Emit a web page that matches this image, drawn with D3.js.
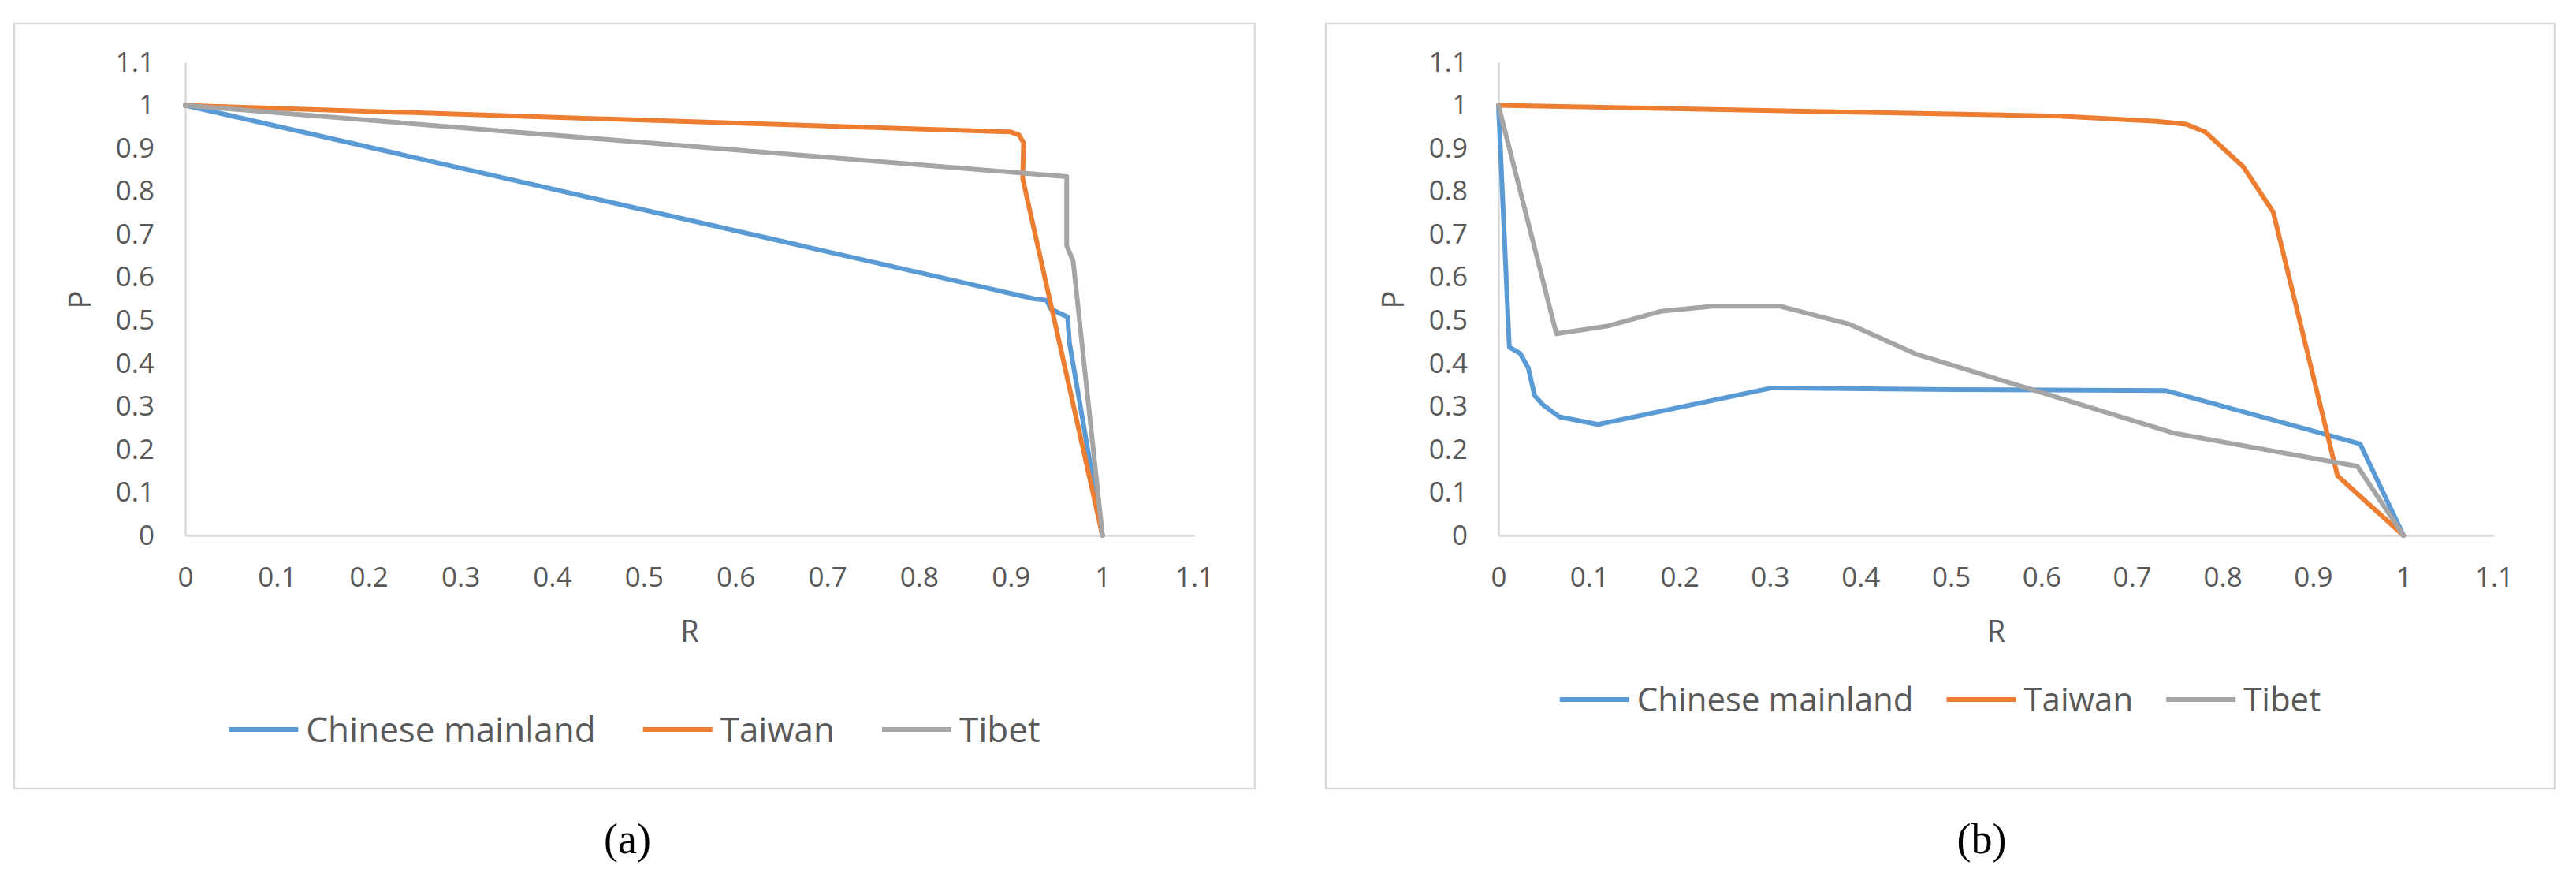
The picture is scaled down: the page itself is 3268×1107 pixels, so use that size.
<!DOCTYPE html>
<html>
<head>
<meta charset="utf-8">
<script src="https://cdnjs.cloudflare.com/ajax/libs/d3/7.8.5/d3.min.js"></script>
<style>
  body { margin: 0; background: #fff; }
  text { font-family: "Open Sans", "Noto Sans", sans-serif; }
</style>
</head>
<body>
<div id="chart"></div>
<script>
// series names and axis ticks
const seriesNames = ["Chinese mainland", "Taiwan", "Tibet"];
const rTicks = [0, 0.1, 0.2, 0.3, 0.4, 0.5, 0.6, 0.7, 0.8, 0.9, 1, 1.1];
const pTicks = [0, 0.1, 0.2, 0.3, 0.4, 0.5, 0.6, 0.7, 0.8, 0.9, 1, 1.1];
const tickLabels = ["0", "0.1", "0.2", "0.3", "0.4", "0.5", "0.6", "0.7", "0.8", "0.9", "1", "1.1"];

// panel (a): [R, P] pairs
const aMainland = [[0, 1], [0.926, 0.55], [0.939, 0.547], [0.944, 0.526], [0.962, 0.508], [0.964, 0.448], [1, 0]];
const aTaiwan = [[0, 1], [0.9, 0.938], [0.909, 0.931], [0.914, 0.913], [0.913, 0.83], [1, 0]];
const aTibet = [[0, 1], [0.961, 0.834], [0.961, 0.674], [0.968, 0.638], [1, 0]];

// panel (b)
const bMainland = [[0, 1], [0.012, 0.438], [0.024, 0.423], [0.033, 0.389], [0.04, 0.325], [0.049, 0.304],
  [0.067, 0.276], [0.11, 0.258], [0.302, 0.343], [0.5, 0.339], [0.737, 0.337], [0.952, 0.213], [1, 0]];
const bTaiwan = [[0, 1], [0.62, 0.975], [0.727, 0.963], [0.76, 0.956], [0.781, 0.938], [0.823, 0.857],
  [0.856, 0.752], [0.927, 0.139], [1, 0]];
const bTibet = [[0, 1], [0.064, 0.469], [0.121, 0.487], [0.179, 0.521], [0.237, 0.533], [0.311, 0.533],
  [0.388, 0.491], [0.461, 0.422], [0.746, 0.238], [0.949, 0.161], [1, 0]];

const colors = ["#5B9BD5", "#ED7D31", "#A5A5A5"];

const svg = d3.select("#chart").append("svg")
  .attr("width", 3268).attr("height", 1107);

function drawPanel(cfg) {
  const g = svg.append("g");

  g.append("rect")
    .attr("x", cfg.frame[0]).attr("y", 30)
    .attr("width", cfg.frame[1] - cfg.frame[0]).attr("height", 970)
    .attr("fill", "#fff").attr("stroke", "#D9D9D9").attr("stroke-width", 2.5);

  const x = d3.scaleLinear().domain([0, 1.1]).range(cfg.xRange);
  const y = d3.scaleLinear().domain([0, 1.1]).range([679, 79]);

  const xAxis = g.append("g").attr("transform", "translate(0,679)")
    .call(d3.axisBottom(x).tickValues(rTicks).tickSize(0).tickPadding(40)
      .tickFormat((d, i) => tickLabels[i]));
  const yAxis = g.append("g").attr("transform", `translate(${cfg.xRange[0]},0)`)
    .call(d3.axisLeft(y).tickValues(pTicks).tickSize(0).tickPadding(39)
      .tickFormat((d, i) => tickLabels[i]));

  [xAxis, yAxis].forEach(a => {
    a.select(".domain").attr("stroke", "#D9D9D9").attr("stroke-width", 2.5);
    a.selectAll("text").attr("font-size", 35).attr("fill", "#595959")
      .style("font-family", "'Open Sans', sans-serif");
  });

  // axis titles
  g.append("text")
    .attr("x", (cfg.xRange[0] + cfg.xRange[1]) / 2).attr("y", 814)
    .attr("text-anchor", "middle").attr("font-size", 38).attr("fill", "#595959")
    .text("R");
  g.append("text")
    .attr("transform", `translate(${cfg.xRange[0] - 120},380) rotate(-90)`)
    .attr("text-anchor", "middle").attr("font-size", 38).attr("fill", "#595959")
    .text("P");

  const line = d3.line().x(d => x(d[0])).y(d => y(d[1]));
  cfg.series.forEach((s, i) => {
    g.append("path").datum(s)
      .attr("d", line)
      .attr("fill", "none")
      .attr("stroke", colors[i])
      .attr("stroke-width", 6)
      .attr("stroke-linejoin", "round")
      .attr("stroke-linecap", "round");
  });

  // legend, centred in the frame
  const leg = g.append("g");
  let cx = 0;
  seriesNames.forEach((name, i) => {
    leg.append("line")
      .attr("x1", cx).attr("x2", cx + 88)
      .attr("y1", cfg.legendY).attr("y2", cfg.legendY)
      .attr("stroke", colors[i]).attr("stroke-width", 6);
    const t = leg.append("text")
      .attr("x", cx + 98).attr("y", cfg.legendY)
      .attr("dy", "0.36em")
      .attr("font-size", cfg.legendSize).attr("fill", "#595959")
      .text(name);
    cx += 98 + t.node().getComputedTextLength() + cfg.legendGap;
  });
  const legW = cx - cfg.legendGap;
  const frameMid = (cfg.frame[0] + cfg.frame[1]) / 2;
  leg.attr("transform", `translate(${frameMid - legW / 2},0)`);

  // caption under the frame
  svg.append("text")
    .attr("x", cfg.captionX).attr("y", 1082)
    .attr("text-anchor", "middle")
    .style("font-family", "'Liberation Serif', 'Times New Roman', serif")
    .attr("font-size", 54).attr("fill", "#000")
    .text(cfg.caption);
}

drawPanel({
  frame: [18, 1592], xRange: [235, 1515],
  series: [aMainland, aTaiwan, aTibet],
  legendY: 925, legendSize: 44, legendGap: 60,
  caption: "(a)", captionX: 796
});

drawPanel({
  frame: [1682, 3241], xRange: [1901, 3164],
  series: [bMainland, bTaiwan, bTibet],
  legendY: 887, legendSize: 42, legendGap: 42,
  caption: "(b)", captionX: 2514
});
</script>
</body>
</html>
